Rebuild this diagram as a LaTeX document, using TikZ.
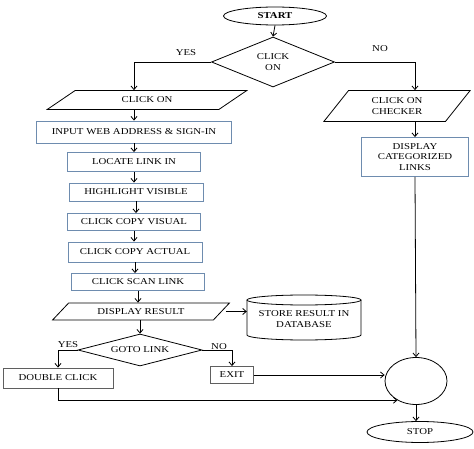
\documentclass[tikz,border=0pt]{standalone}
\usepackage{fontspec}
\setmainfont{Liberation Serif}[FakeStretch=1.2]
\usepackage{tikz}
\usetikzlibrary{shapes.geometric,arrows.meta}
\definecolor{boxblue}{RGB}{110,140,175}
\definecolor{boxgray}{RGB}{95,95,95}
\tikzset{
  txt/.style={font=\fontsize{9}{10.5}\selectfont,align=center,inner sep=0pt},
  arr/.style={-{Straight Barb[length=3.5pt,width=6pt]},line width=.8pt},
  ln/.style={line width=.8pt},
  term/.style={txt,ellipse,draw,line width=.8pt},
  decide/.style={txt,diamond,draw,line width=.8pt},
  io/.style={txt,trapezium,trapezium stretches=true,draw,line width=.8pt},
  procbox/.style={txt,rectangle,draw=boxblue,line width=.9pt},
  grbox/.style={txt,rectangle,draw=boxgray,line width=.9pt}
}
\begin{document}
\begin{tikzpicture}[x=1pt,y=1pt]
  \useasboundingbox (0,0) rectangle (474,448);
  % terminals and decisions
  \node[term,minimum width=103,minimum height=18] (start) at (275,432) {\textbf{START}};
  \node[decide,aspect=2.46,minimum width=123,minimum height=50] (click) at (273,386) {CLICK\\ON};
  \node[io,trapezium left angle=31.5,trapezium right angle=148.5,minimum width=201,minimum height=19] (clickon) at (147,348) {CLICK ON};
  \node[io,trapezium left angle=52,trapezium right angle=128,minimum width=147,minimum height=31] (checker) at (397,342) {CLICK ON\\CHECKER};
  % left column
  \node[procbox,minimum width=195,minimum height=22] (input) at (134,316) {INPUT WEB ADDRESS \& SIGN-IN};
  \node[procbox,minimum width=133,minimum height=19] (locate) at (134,286) {LOCATE LINK IN};
  \node[procbox,minimum width=134,minimum height=18] (highlight) at (136,256) {HIGHLIGHT VISIBLE};
  \node[procbox,minimum width=133,minimum height=17] (copyvis) at (134,226) {CLICK COPY VISUAL};
  \node[procbox,minimum width=134,minimum height=20] (copyact) at (135,196) {CLICK COPY ACTUAL};
  \node[procbox,minimum width=133,minimum height=17] (scan) at (138,166) {CLICK SCAN LINK};
  \node[io,trapezium left angle=32,trapezium right angle=148,minimum width=177,minimum height=17] (result) at (141,136.5) {DISPLAY RESULT};
  \node[decide,aspect=3.9,minimum width=124,minimum height=32] (goto) at (140,98) {GOTO LINK};
  \node[grbox,minimum width=110,minimum height=20] (dbl) at (58,70) {DOUBLE CLICK};
  \node[grbox,minimum width=43,minimum height=17] (exit) at (232,73) {EXIT};
  % right column
  \node[procbox,minimum width=107,minimum height=39] (categ) at (415,291) {DISPLAY\\CATEGORIZED\\LINKS};
  \node[ellipse,draw,line width=.8pt,minimum width=62,minimum height=47] (join) at (416,67) {};
  \node[term,minimum width=106,minimum height=21] (stop) at (420,16) {STOP};
  % database
  \node[txt,minimum width=114,minimum height=45] (db) at (304,129) {STORE RESULT IN\\DATABASE};
  \draw[ln] (304,148) ellipse [x radius=57,y radius=5];
  \draw[ln] (247,148) -- (247,113) arc [start angle=180,end angle=360,x radius=57,y radius=5] -- (361,148);
  % connectors
  \draw[arr] (start.south) -- (click.north);
  \draw[arr] (click.west) -| (input.north |- clickon.north);
  \draw[arr] (click.east) -| (categ.north |- checker.north);
  \draw[arr] (input.north |- clickon.south) -- (input.north);
  \draw[arr] (categ.north |- checker.south) -- (categ.north);
  \foreach \a/\b in {input/locate,locate/highlight,highlight/copyvis,copyvis/copyact,copyact/scan,scan/result}
    \draw[arr] (\a.south) -- (\a.south |- \b.north);
  \draw[arr,shorten <=4pt] (result.east) -- (db.west |- result.east);
  \draw[arr] (goto.north |- result.south) -- (goto.north);
  \draw[arr] (goto.west) -| (dbl.north);
  \draw[arr] (goto.east) -| (exit.north);
  \draw[arr] (exit.east) -- (exit.east -| join.west);
  \draw[arr] (dbl.south) |- (join.226);
  \draw[arr] (categ.south) -- (join.north);
  \draw[arr] (join.south) -- (join.south |- stop.north);
  % branch labels
  \node[txt] (yes1) at (186,395) {YES};
  \node[txt] (no1) at (380,399) {NO};
  \node[txt] (yes2) at (68,103) {YES};
  \node[txt] (no2) at (219,101) {NO};
\end{tikzpicture}
\end{document}
